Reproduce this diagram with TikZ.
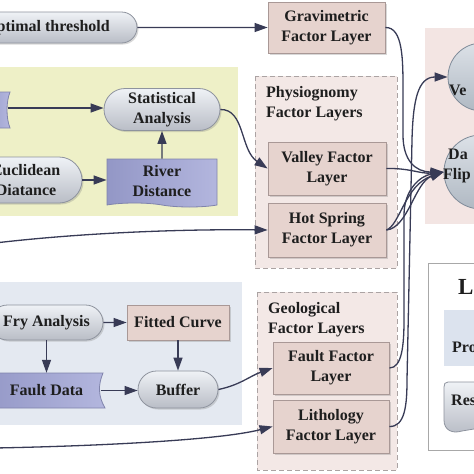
\documentclass[tikz,border=0pt]{standalone}
\usepackage{fontspec}
\setmainfont{Liberation Serif}
\usetikzlibrary{arrows.meta,shapes.misc,shapes.symbols,shadows}

\definecolor{linkcol}{HTML}{383B56}
\definecolor{textcol}{HTML}{1E1E1E}
\definecolor{yellowbg}{HTML}{EEF0C7}
\definecolor{bluebg}{HTML}{E4E9F1}
\definecolor{pinkbg}{HTML}{F3E5E3}
\definecolor{groupfill}{HTML}{F3E8E6}
\definecolor{groupline}{HTML}{ABA3A3}
\definecolor{layerfill}{HTML}{E6D3CE}
\definecolor{layerline}{HTML}{A99896}
\definecolor{pilltop}{HTML}{EFF2F6}
\definecolor{pillbot}{HTML}{B9BDC6}
\definecolor{pillline}{HTML}{8E939E}
\definecolor{docleft}{HTML}{9397C6}
\definecolor{docright}{HTML}{B3B6DE}
\definecolor{docline}{HTML}{8084AC}
\definecolor{circtop}{HTML}{DCE1E7}
\definecolor{circbot}{HTML}{B0B9C3}
\definecolor{circline}{HTML}{7F8B99}
\definecolor{legline}{HTML}{A8A8A8}
\definecolor{legproc}{HTML}{DCE3EE}

\tikzset{
  lbl/.style={font=\fontsize{16}{20}\selectfont\bfseries, text=textcol, align=center, inner sep=0pt},
  layerbox/.style={lbl, rectangle, draw=layerline, fill=layerfill, line width=0.8pt,
    drop shadow={shadow xshift=1.5pt, shadow yshift=-1.5pt, opacity=0.3}},
  procpill/.style={lbl, rounded rectangle, draw=pillline, line width=0.8pt,
    top color=pilltop, bottom color=pillbot,
    drop shadow={shadow xshift=1.5pt, shadow yshift=-1.5pt, opacity=0.3}},
  datatape/.style={lbl, tape, draw=docline, line width=0.8pt, left color=docleft, right color=docright,
    tape bend top=none, tape bend bottom=out and in, tape bend height=4pt},
  docshape/.style={draw=docline, line width=0.8pt, left color=docleft, right color=docright},
  factorgroup/.style={draw=groupline, fill=groupfill, dash pattern=on 5pt off 3pt, line width=1pt},
  result/.style={circle, draw=circline, line width=0.8pt, top color=circtop, bottom color=circbot, inner sep=0pt},
  legendbox/.style={draw=legline, fill=white, line width=0.8pt},
  link/.style={draw=linkcol, line width=1.3pt, -{Triangle[length=13pt,width=9pt]}}
}

\begin{document}
\begin{tikzpicture}[x=1pt,y=-1pt]
  \useasboundingbox (0,0) rectangle (474,474);
  \clip (0,0) rectangle (474,474);
  \fill[white] (0,0) rectangle (474,474);

  % panels
  \fill[yellowbg] (-5,67) rectangle (238,216);
  \fill[bluebg] (-5,282) rectangle (242,425);
  \fill[pinkbg] (425,28) rectangle (480,224);
  \draw[factorgroup] (255,76) rectangle (397,268);
  \draw[factorgroup] (257,292) rectangle (397,470);
  \draw[legendbox] (428,263) rectangle (480,450);

  % top row
  \node[procpill, minimum width=180pt, minimum height=31pt] (opt) at (47,27.5) {Optimal threshold};
  \node[layerbox, minimum width=117pt, minimum height=51pt] (grav) at (326.5,27.5) {Gravimetric\\Factor Layer};

  % physiognomy
  \node[lbl, anchor=north west, align=left] (physlbl) at (266,86) {Physiognomy\\Factor Layers};
  \node[layerbox, minimum width=118pt, minimum height=53pt] (valley) at (327,168.5) {Valley Factor\\Layer};
  \node[layerbox, minimum width=118pt, minimum height=54pt] (hot) at (327,230) {Hot Spring\\Factor Layer};

  % river analysis
  \path[docshape] (-20,92) -- (10,92) .. controls (6,102) and (6,118) .. (10,128) -- (-20,128) -- cycle;
  \coordinate (srcdoc) at (8,108);
  \node[procpill, minimum width=116pt, minimum height=42pt] (stat) at (162,109.5) {Statistical\\Analysis};
  \node[procpill, minimum width=112pt, minimum height=46pt] (eucl) at (26,180) {Euclidean\\Diatance};
  \node[datatape, minimum width=110pt, minimum height=48pt] (river) at (162,181) {River\\Distance};

  % fault analysis
  \node[procpill, minimum width=113pt, minimum height=35pt] (fry) at (46.5,322.5) {Fry Analysis};
  \node[layerbox, minimum width=102pt, minimum height=35pt] (fitted) at (178,322.5) {Fitted Curve};
  \path[docshape] (-20,373) -- (103,373) .. controls (98,385) and (98,396) .. (105,408) -- (-20,408) -- cycle;
  \node[lbl, minimum width=108pt, minimum height=35pt] (faultdata) at (46.5,390.5) {Fault Data};
  \node[procpill, minimum width=80pt, minimum height=37pt] (buffer) at (178,389.5) {Buffer};

  % geology
  \node[lbl, anchor=north west, align=left] (geolbl) at (268,302) {Geological\\Factor Layers};
  \node[layerbox, minimum width=116pt, minimum height=52pt] (fault) at (331,368) {Fault Factor\\Layer};
  \node[layerbox, minimum width=116pt, minimum height=53pt] (litho) at (331,426.5) {Lithology\\Factor Layer};

  % results
  \node[result, minimum size=68pt] (ve) at (482,77) {};
  \node[lbl, anchor=west] (vetext) at (449,90) {Ve};
  \node[result, minimum size=74pt] (da) at (481,172) {};
  \node[lbl, anchor=west, align=left] (datext) at (443,166) {\hspace{5pt}Da\\Flip};

  % legend
  \node[lbl, font=\fontsize{23}{26}\selectfont\bfseries, anchor=west] (legtitle) at (458,287) {L};
  \fill[legproc] (444,310) rectangle (480,366);
  \node[lbl, anchor=west] (legpro) at (452,347) {Pro};
  \path[draw=pillline, line width=0.8pt, top color=pilltop, bottom color=pillbot]
    (480,382) -- (448,382) .. controls (445,382) and (444,384) .. (444,387) -- (444,420)
    .. controls (444,430) and (452,434) .. (462,431) -- (480,428) -- cycle;
  \node[lbl, anchor=west] (legres) at (451,400) {Res};

  % connectors
  \draw[link] (opt) -- (grav);
  \draw[link] (srcdoc) -- (srcdoc -| stat.west);
  \draw[link] (eucl.east) -- (eucl.east -| river.west);
  \draw[link] (river) -- (stat);
  \draw[link] (stat.east) .. controls (245,109) and (240,150) .. (valley.west);
  \coordinate (hotfeed) at (-5,243);
  \draw[link] (hotfeed) .. controls (80,233) and (180,229) .. (hot.west);

  \draw[link] (fry.south) -- (faultdata.north);
  \draw[link] (fry) -- (fitted);
  \draw[link] (fitted) -- (buffer);
  \draw[link] (faultdata.east) -- (faultdata.east -| buffer.west);
  \draw[link] (buffer.east) .. controls (240,385) and (250,376) .. (fault.west);
  \coordinate (lithfeed) at (-5,448);
  \draw[link] (lithfeed) .. controls (100,446) and (220,440) .. (litho.west);

  \draw[link] (grav.east) .. controls (403,27) and (403,60) .. (403,90) -- (403,135)
    .. controls (403,160) and (415,172) .. (da.west);
  \draw[link] (valley.east) .. controls (410,168) and (420,174) .. (da.west);
  \draw[link] (hot.east) .. controls (400,225) and (405,185) .. (da.west);
  \draw[link] (hot.east) .. controls (408,228) and (415,182) .. (da.west);
  \draw[link] (fault.east) .. controls (402,368) and (404,345) .. (404,320) -- (404,215)
    .. controls (404,190) and (420,176) .. (da.west);
  \draw[link] (litho.east) .. controls (405,427) and (407,405) .. (407,380) -- (412,140)
    .. controls (413,100) and (418,77) .. (ve.west);
\end{tikzpicture}
\end{document}
